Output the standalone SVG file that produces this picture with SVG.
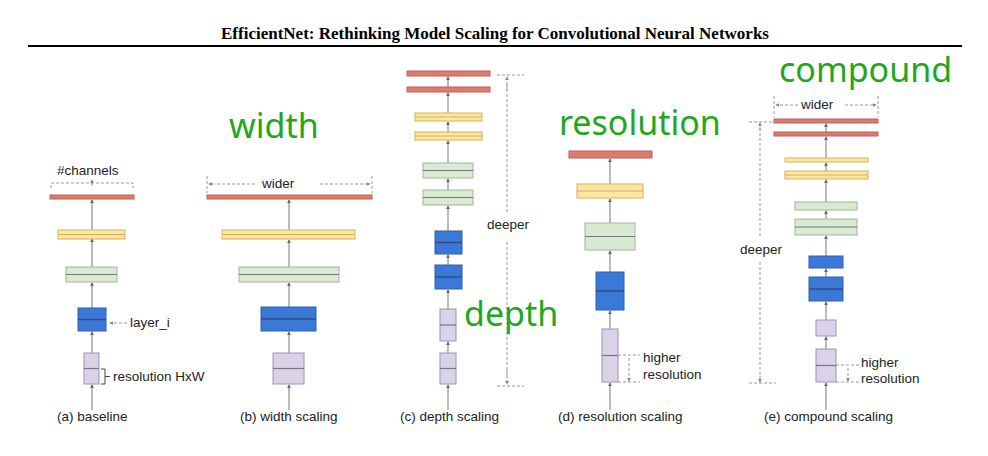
<svg xmlns="http://www.w3.org/2000/svg" width="988" height="456" viewBox="0 0 988 456">
<defs>
<marker id="ah" viewBox="0 0 6 6" refX="5" refY="3" markerWidth="4" markerHeight="4" orient="auto"><path d="M0,0 L6,3 L0,6 z" fill="#666"/></marker>
<marker id="ahd" viewBox="0 0 6 6" refX="5" refY="3" markerWidth="4" markerHeight="4" orient="auto"><path d="M0,0 L6,3 L0,6 z" fill="#888"/></marker>
<style>
.r{fill:#e07a6e;stroke:#b8625a;stroke-width:1}
.y{fill:#fde6a0;stroke:#d4b25e;stroke-width:1}
.g{fill:#d9ead3;stroke:#a4b39e;stroke-width:1}
.b{fill:#3c78d8;stroke:#2e5fae;stroke-width:1}
.p{fill:#d9d2e9;stroke:#9d94ab;stroke-width:1}
.m{stroke:#777;stroke-width:1.2}
.mb{stroke:#2d4f80;stroke-width:1.5}
.c{stroke:#777;stroke-width:1;fill:none;marker-end:url(#ah)}
.d{stroke:#999;stroke-width:1;stroke-dasharray:3,2;fill:none}
.da{stroke:#999;stroke-width:1;stroke-dasharray:3,2;fill:none;marker-end:url(#ahd)}
.t{font-family:"Liberation Sans",Arial,sans-serif;font-size:13.5px;fill:#222}
.big{font-family:"Noto Sans",sans-serif;font-size:34px;fill:#22a61e}
</style>
</defs>
<rect width="988" height="456" fill="#fff"/>
<text x="495" y="39" text-anchor="middle" font-family="Liberation Serif,serif" font-weight="bold" font-size="17">EfficientNet: Rethinking Model Scaling for Convolutional Neural Networks</text>
<line x1="28" y1="46" x2="962" y2="46" stroke="#000" stroke-width="2"/>

<g id="connectors">
<path class="c" d="M92,410 V385"/><path class="c" d="M92,353 V332"/><path class="c" d="M92,308 V283"/><path class="c" d="M92,267 V239"/><path class="c" d="M92,230 V200"/>
<path class="c" d="M289,410 V385"/><path class="c" d="M289,353 V332"/><path class="c" d="M289,307 V283"/><path class="c" d="M289,267 V240"/><path class="c" d="M289,230 V200"/>
<path class="c" d="M448,410 V385"/><path class="c" d="M448,353 V342"/><path class="c" d="M448,309 V290"/><path class="c" d="M448,265 V255"/><path class="c" d="M448,231 V206"/><path class="c" d="M448,190 V179"/><path class="c" d="M448,163 V141"/><path class="c" d="M448,132 V122"/><path class="c" d="M448,113 V93"/><path class="c" d="M448,87 V77"/>
<path class="c" d="M610,410 V383"/><path class="c" d="M610,329 V311"/><path class="c" d="M610,272 V251"/><path class="c" d="M610,223 V199"/><path class="c" d="M610,184 V159"/>
<path class="c" d="M826,410 V383"/><path class="c" d="M826,349 V337"/><path class="c" d="M826,320 V302"/><path class="c" d="M826,277 V269"/><path class="c" d="M826,256 V236"/><path class="c" d="M826,219 V211"/><path class="c" d="M826,202 V180"/><path class="c" d="M826,171 V163"/><path class="c" d="M826,158 V137"/><path class="c" d="M826,132 V124"/>
</g>

<g id="a">
<rect class="r" x="50" y="195" width="84" height="4"/>
<rect class="y" x="58" y="230" width="67" height="9"/><line class="m" x1="58" y1="234.5" x2="125" y2="234.5" style="stroke:#d4b25e"/>
<rect class="g" x="66" y="267" width="51" height="15"/><line class="m" x1="66" y1="274.5" x2="117" y2="274.5"/>
<rect class="b" x="78" y="308" width="28" height="23"/><line class="mb" x1="78" y1="319.5" x2="106" y2="319.5"/>
<rect class="p" x="84" y="353" width="15" height="31"/><line class="m" x1="84" y1="368.5" x2="99" y2="368.5"/>
<path class="d" d="M51,188 V183 H133 V188"/><path class="da" d="M92,186 V180"/>
<text class="t" x="57" y="175">#channels</text>
<path class="da" d="M127,323 H110"/><text class="t" x="130" y="327">layer_i</text>
<path d="M101,369 H105 V384 H101 M105,376.5 H110" stroke="#444" fill="none"/>
<text class="t" x="113" y="381">resolution HxW</text>
<text class="t" x="57" y="421">(a) baseline</text>
</g>

<g id="b">
<rect class="r" x="207" y="195" width="165" height="4"/>
<rect class="y" x="222" y="230" width="133" height="9"/><line class="m" x1="222" y1="234.5" x2="355" y2="234.5" style="stroke:#d4b25e"/>
<rect class="g" x="239" y="267" width="100" height="15"/><line class="m" x1="239" y1="274.5" x2="339" y2="274.5"/>
<rect class="b" x="261" y="307" width="55" height="24"/><line class="mb" x1="261" y1="319" x2="316" y2="319"/>
<rect class="p" x="273" y="353" width="31" height="31"/><line class="m" x1="273" y1="368.5" x2="304" y2="368.5"/>
<path class="d" d="M207,176 V193 M372,176 V193"/><path class="da" d="M255,184 H209"/><path class="da" d="M320,184 H370"/>
<text class="t" x="262" y="188">wider</text>
<text class="t" x="240" y="421">(b) width scaling</text>
</g>

<g id="c">
<rect class="r" x="407" y="71" width="83" height="5"/>
<rect class="r" x="407" y="87" width="83" height="5"/>
<rect class="y" x="415" y="113" width="67" height="8"/><line class="m" x1="415" y1="117" x2="482" y2="117" style="stroke:#d4b25e"/>
<rect class="y" x="415" y="132" width="67" height="8"/><line class="m" x1="415" y1="136" x2="482" y2="136" style="stroke:#d4b25e"/>
<rect class="g" x="423" y="163" width="50" height="15"/><line class="m" x1="423" y1="170.5" x2="473" y2="170.5"/>
<rect class="g" x="423" y="190" width="50" height="15"/><line class="m" x1="423" y1="197.5" x2="473" y2="197.5"/>
<rect class="b" x="435" y="231" width="27" height="23"/><line class="mb" x1="435" y1="242.5" x2="462" y2="242.5"/>
<rect class="b" x="435" y="265" width="27" height="24"/><line class="mb" x1="435" y1="277" x2="462" y2="277"/>
<rect class="p" x="440" y="309" width="16" height="32"/><line class="m" x1="440" y1="325" x2="456" y2="325"/>
<rect class="p" x="440" y="353" width="16" height="31"/><line class="m" x1="440" y1="368.5" x2="456" y2="368.5"/>
<path class="d" d="M497,75 H524 M497,386 H524 M507,212 V83 M507,242 V378"/>
<path class="da" d="M507,90 V77"/><path class="da" d="M507,370 V384"/>
<text class="t" x="487" y="229">deeper</text>
<text class="big" x="464" y="326">depth</text>
<text class="t" x="400" y="421">(c) depth scaling</text>
</g>

<g id="d">
<rect class="r" x="569" y="151" width="83" height="7"/>
<rect class="y" x="577" y="184" width="66" height="14"/><line class="m" x1="577" y1="191" x2="643" y2="191" style="stroke:#d4b25e"/>
<rect class="g" x="585" y="223" width="50" height="27"/><line class="m" x1="585" y1="236.5" x2="635" y2="236.5"/>
<rect class="b" x="596" y="272" width="28" height="38"/><line class="mb" x1="596" y1="291" x2="624" y2="291"/>
<rect class="p" x="602" y="329" width="16" height="53"/><line class="m" x1="602" y1="355.5" x2="618" y2="355.5"/>
<path class="d" d="M618,355 H640 M618,382 H640"/><path class="da" d="M629,358 V381"/>
<text class="t" x="643" y="362">higher</text>
<text class="t" x="643" y="379">resolution</text>
<text class="big" x="559" y="135">resolution</text>
<text class="t" x="558" y="421">(d) resolution scaling</text>
</g>

<g id="e">
<rect class="r" x="774" y="119" width="104" height="4"/>
<rect class="r" x="774" y="132" width="104" height="4"/>
<rect class="y" x="785" y="158" width="83" height="4"/>
<rect class="y" x="785" y="171" width="83" height="8"/><line class="m" x1="785" y1="175" x2="868" y2="175" style="stroke:#d4b25e"/>
<rect class="g" x="795" y="202" width="62" height="8"/>
<rect class="g" x="795" y="219" width="62" height="16"/><line class="m" x1="795" y1="227" x2="857" y2="227"/>
<rect class="b" x="809" y="256" width="34" height="12"/>
<rect class="b" x="809" y="277" width="34" height="24"/><line class="mb" x1="809" y1="289" x2="843" y2="289"/>
<rect class="p" x="816" y="320" width="20" height="16"/>
<rect class="p" x="816" y="349" width="20" height="33"/><line class="m" x1="816" y1="365.5" x2="836" y2="365.5"/>
<path class="d" d="M774,96 V117 M878,96 V117"/><path class="da" d="M798,105 H776"/><path class="da" d="M845,105 H876"/>
<text class="t" x="801" y="109">wider</text>
<path class="d" d="M749,122 H776 M749,383 H776 M760,236 V128 M760,262 V376"/>
<path class="da" d="M760,130 V123"/><path class="da" d="M760,376 V382"/>
<text class="t" x="740" y="254">deeper</text>
<path class="d" d="M836,365 H860 M836,382 H860"/><path class="da" d="M848,368 V381"/>
<text class="t" x="861" y="367">higher</text>
<text class="t" x="861" y="383">resolution</text>
<text class="big" x="779" y="82">compound</text>
<text class="t" x="764" y="421">(e) compound scaling</text>
</g>

<text class="big" x="229" y="138">width</text>
</svg>
